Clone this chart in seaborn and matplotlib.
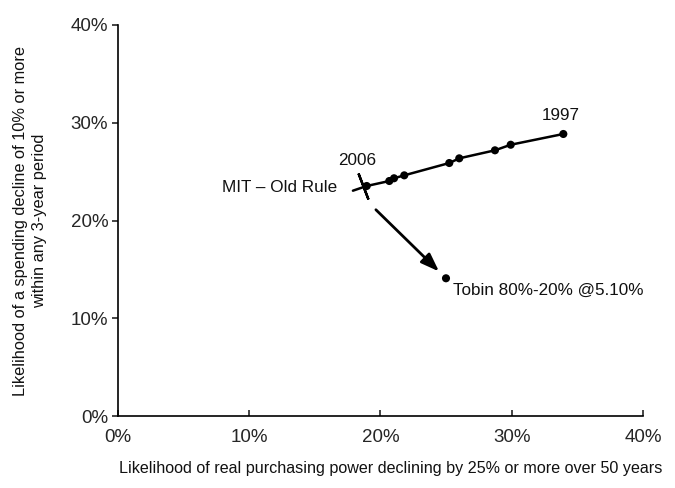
import matplotlib
matplotlib.use("Agg")
import matplotlib.pyplot as plt
import matplotlib.ticker as mticker
import seaborn as sns
import pandas as pd

# MIT old-rule frontier, 2006 (left) to 1997 (right), values in percent
mit_x = [18.95, 20.67, 21.03, 21.81, 25.24, 26.00, 28.72, 29.92, 33.93]
mit_y = [23.53, 24.04, 24.32, 24.62, 25.88, 26.36, 27.18, 27.75, 28.85]
# the drawn line runs a little past the 2006 point
line_start_x = 17.9
line_start_y = 23.05

tobin_x = [24.99]
tobin_y = [14.09]
arrow_start = (19.65, 21.1)

ticks = [0, 10, 20, 30, 40]

sns.set_style("ticks")
plt.rcParams["font.family"] = ["Liberation Sans", "DejaVu Sans"]

fig = plt.figure(figsize=(6.75, 4.88), dpi=100)
ax = fig.add_axes([0.1748, 0.1475, 0.7778, 0.8013])

line_df = pd.DataFrame({"x": [line_start_x] + mit_x, "y": [line_start_y] + mit_y})
sns.lineplot(data=line_df, x="x", y="y", sort=False, color="black", linewidth=1.8, ax=ax)
sns.scatterplot(x=mit_x, y=mit_y, color="black", s=34, edgecolor="none", ax=ax, zorder=3)
sns.scatterplot(x=tobin_x, y=tobin_y, color="black", s=34, edgecolor="none", ax=ax, zorder=3)

# cross mark on the 2006 point
ax.plot(mit_x[0] - 0.3, mit_y[0] - 0.05, marker=(2, 2, 21), markersize=20,
        markeredgewidth=1.7, color="black", linestyle="none")

ax.annotate("", xy=(tobin_x[0], tobin_y[0]), xytext=arrow_start,
            arrowprops=dict(arrowstyle="-|>,head_length=1.1,head_width=0.4",
                            color="black", lw=2, shrinkA=0, shrinkB=7))

txt = dict(fontsize=12.3, color="#111111")
ax.annotate("2006", (mit_x[0], mit_y[0]), xytext=(-7, 18), textcoords="offset points",
            ha="center", va="center", **txt)
ax.annotate("1997", (mit_x[-1], mit_y[-1]), xytext=(-2, 13), textcoords="offset points",
            ha="center", va="center", **txt)
ax.annotate("MIT \u2013 Old Rule", (line_start_x, line_start_y), xytext=(-11, 2),
            textcoords="offset points", ha="right", va="center", **txt)
ax.annotate("Tobin 80%-20% @5.10%", (tobin_x[0], tobin_y[0]), xytext=(5, -9),
            textcoords="offset points", ha="left", va="center", **txt)

ax.set_xlim(0, 40)
ax.set_ylim(0, 40)
ax.set_xticks(ticks)
ax.set_yticks(ticks)
ax.xaxis.set_major_formatter(mticker.FuncFormatter(lambda v, p: f"{v:.0f}%"))
ax.yaxis.set_major_formatter(mticker.FuncFormatter(lambda v, p: f"{v:.0f}%"))
ax.tick_params(axis="x", direction="in", length=4, width=1.2, pad=9, labelsize=13.5)
ax.tick_params(axis="y", direction="out", length=4, width=1.2, pad=3, labelsize=13.5)
for s in ["left", "bottom"]:
    ax.spines[s].set_linewidth(1.2)
    ax.spines[s].set_color("black")
sns.despine(ax=ax)

ax.set_xlabel("Likelihood of real purchasing power declining by 25% or more over 50 years",
              fontsize=11.6, labelpad=11, color="#111111", x=0.52)
ax.set_ylabel("Likelihood of a spending decline of 10% or more\nwithin any 3-year period",
              fontsize=11.8, labelpad=17, color="#111111", linespacing=1.3)

fig.savefig("out.png", dpi=100)
